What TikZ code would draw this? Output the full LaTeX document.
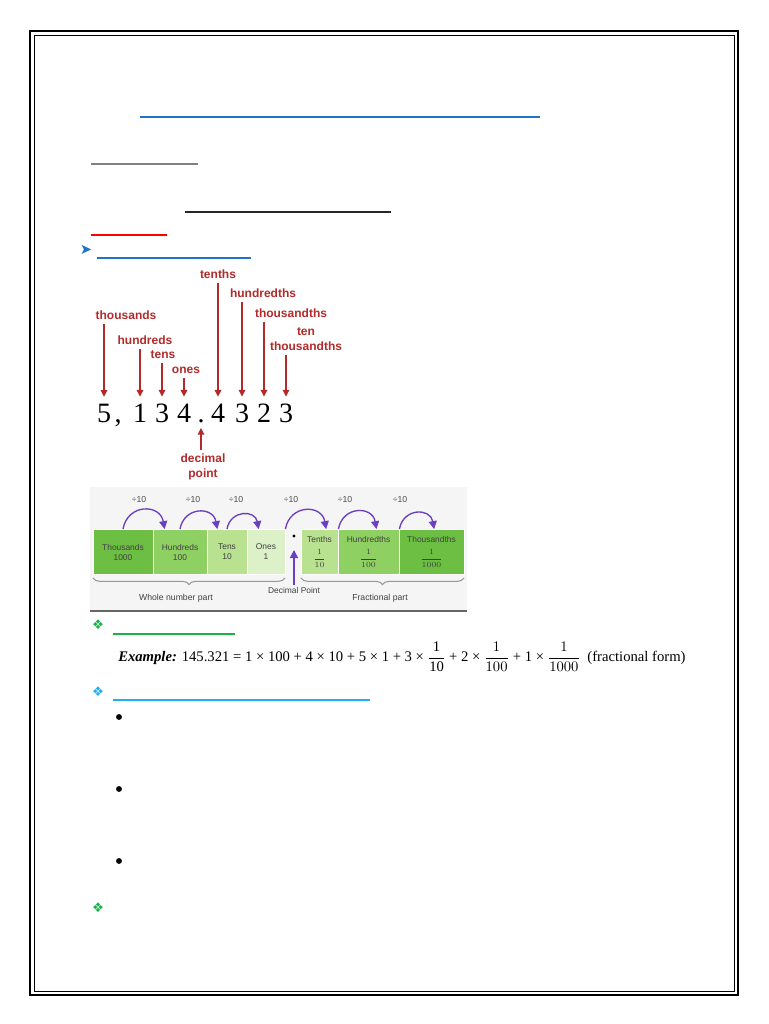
\documentclass[tikz,border=0pt]{standalone}
\usepackage{fontspec}
\usepackage{amsmath}
\setmainfont{Liberation Serif}
\setsansfont{Liberation Sans}
\newfontfamily\symfont{DejaVu Sans}
\usetikzlibrary{arrows.meta,decorations.pathreplacing}
\definecolor{labred}{HTML}{B22A2A}
\definecolor{arrpurple}{HTML}{6A3FC0}
\definecolor{gDark}{HTML}{6CBF43}
\definecolor{gMid}{HTML}{8FD063}
\definecolor{gLight}{HTML}{B8E190}
\definecolor{gPale}{HTML}{DCF1C8}
\definecolor{lineblue}{HTML}{1F74C8}
\definecolor{linecyan}{HTML}{1EB0F0}
\definecolor{linegreen}{HTML}{19B34A}
\tikzset{
  lab/.style={text=labred, font=\sffamily\bfseries\fontsize{9}{11}\selectfont, inner sep=0pt, align=center},
  dig/.style={font=\fontsize{21}{21}\selectfont, inner sep=0pt, anchor=base},
  pointer/.style={draw=labred, line width=0.8pt, -{Triangle[length=5pt,width=5pt]}},
  cell/.style={draw=white, line width=0.6pt, minimum height=33.75pt, inner sep=0pt, align=center, font=\sffamily\fontsize{6.3}{7.5}\selectfont, text=black!75},
  hop/.style={draw=arrpurple, line width=1pt, -{Triangle[length=6pt,width=6pt]}},
  rule/.style={line width=1.6pt},
  dmd/.style={font=\symfont\fontsize{10}{10}\selectfont, inner sep=0pt}
}
\begin{document}
\begin{tikzpicture}[x=0.75pt,y=-0.75pt]
\useasboundingbox (0,0) rectangle (768,1024);
% page frame
\draw[line width=1.8pt] (30,31) rectangle (738,995);
\draw[line width=0.5pt] (34,35) rectangle (734,991);

% heading rules
\draw[rule, lineblue] (140,117) -- (540,117);
\draw[rule, black!50] (91,164) -- (198,164);
\draw[rule, black!85] (185,212) -- (391,212);
\draw[rule, red] (91,235) -- (167,235);
\node[font=\symfont\fontsize{11}{11}\selectfont, text=lineblue, inner sep=0pt] (tip) at (86,250) {➤};
\draw[rule, lineblue] (97,258) -- (251,258);

% the number with its place names
\node[dig] (d1) at (104,422) {5};
\node[dig] (cm) at (118,422) {,};
\node[dig] (d2) at (140,422) {1};
\node[dig] (d3) at (162,422) {3};
\node[dig] (d4) at (184,422) {4};
\node[dig] (dp) at (201,422) {.};
\node[dig] (d5) at (218,422) {4};
\node[dig] (d6) at (242,422) {3};
\node[dig] (d7) at (264,422) {2};
\node[dig] (d8) at (286,422) {3};
\node[lab] (l1) at (126,315) {thousands};
\node[lab] (l2) at (145,340) {hundreds};
\node[lab] (l3) at (163,355) {tens};
\node[lab] (l4) at (186,370) {ones};
\node[lab] (l5) at (218,274) {tenths};
\node[lab] (l6) at (263,293) {hundredths};
\node[lab] (l7) at (291,313) {thousandths};
\node[lab] (l8) at (306,339) {ten\\thousandths};
\node[lab] (l9) at (203,467) {decimal\\point};
\draw[pointer] ([yshift=-3pt]l1.south -| d1) -- ([yshift=5pt]d1.north);
\draw[pointer] ([yshift=-3pt]l2.south -| d2) -- ([yshift=5pt]d2.north);
\draw[pointer] ([yshift=-3pt]l3.south -| d3) -- ([yshift=5pt]d3.north);
\draw[pointer] ([yshift=-3pt]l4.south -| d4) -- ([yshift=5pt]d4.north);
\draw[pointer] ([yshift=-3pt]l5.south -| d5) -- ([yshift=5pt]d5.north);
\draw[pointer] ([yshift=-3pt]l6.south -| d6) -- ([yshift=5pt]d6.north);
\draw[pointer] ([yshift=-3pt]l7.south -| d7) -- ([yshift=5pt]d7.north);
\draw[pointer] ([yshift=-3pt]l8.south -| d8) -- ([yshift=5pt]d8.north);
\draw[pointer] ([yshift=3pt]l9.north -| dp) -- ([yshift=-4pt]dp.south);

% place value chart
\fill[black!4] (90,487) rectangle (467,611);
\draw[black!60, line width=1pt] (90,611) -- (467,611);
\node[cell, fill=gDark, minimum width=45pt] (th) at (123,552) {Thousands\\1000};
\node[cell, fill=gMid, minimum width=40.5pt] (hu) at (180,552) {Hundreds\\100};
\node[cell, fill=gLight, minimum width=30pt] (te) at (227,552) {Tens\\10};
\node[cell, fill=gPale, minimum width=28.5pt] (on) at (266,552) {Ones\\1};
\node[cell, fill=gLight, minimum width=27.75pt] (tt) at (319.5,552) {Tenths\\[4pt]$\dfrac{1}{10}$};
\node[cell, fill=gMid, minimum width=45.75pt] (ht) at (368.5,552) {Hundredths\\[4pt]$\dfrac{1}{100}$};
\node[cell, fill=gDark, minimum width=48.75pt] (tht) at (431.5,552) {Thousandths\\[4pt]$\dfrac{1}{1000}$};
\fill (294,536) circle (1.3pt);
\node[font=\sffamily\fontsize{6.3}{7}\selectfont, text=black!75, inner sep=1pt] (dpl) at (294,590) {Decimal Point};
\draw[hop] (dpl.north) -- (294,550);
\draw[hop] (th.north) to[out=80,in=100,looseness=1.6] ([xshift=9pt]hu.north west);
\draw[hop] (hu.north) to[out=80,in=100,looseness=1.6] ([xshift=8pt]te.north west);
\draw[hop] (te.north) to[out=80,in=100,looseness=1.6] ([xshift=9pt]on.north west);
\draw[hop] (on.north east) to[out=80,in=100,looseness=1.6] ([xshift=5pt]tt.north);
\draw[hop] (tt.north east) to[out=80,in=100,looseness=1.6] ([xshift=6pt]ht.north);
\draw[hop] (ht.north east) to[out=80,in=100,looseness=1.6] ([xshift=2pt]tht.north);
\foreach \x in {139,193,236,291,345,400}
  \node[font=\sffamily\fontsize{6.5}{7}\selectfont, text=black!70] at (\x,500) {÷10};
\draw[decorate, decoration={brace, mirror, amplitude=5pt}, black!40, line width=0.8pt] (93,578) -- (285,578);
\draw[decorate, decoration={brace, mirror, amplitude=5pt}, black!40, line width=0.8pt] (301,578) -- (464,578);
\node[font=\sffamily\fontsize{6.5}{7}\selectfont, text=black!75] (whole) at (176,598) {Whole number part};
\node[font=\sffamily\fontsize{6.5}{7}\selectfont, text=black!75] (frac) at (380,598) {Fractional part};

% example
\node[dmd, text=linegreen] (s1) at (98,625) {❖};
\draw[rule, linegreen] (113,634) -- (235,634);
\node[anchor=west, inner sep=0pt, font=\fontsize{11}{12}\selectfont] (ex) at (118,657)
  {\textbf{\textit{Example:}} 145.321 = 1 × 100 + 4 × 10 + 5 × 1 + 3 × $\dfrac{\mathrm{1}}{\mathrm{10}}$ + 2 × $\dfrac{1}{100}$ + 1 × $\dfrac{1}{1000}$\ \ (fractional form)};
\node[dmd, text=linecyan] (s2) at (98,692) {❖};
\draw[rule, linecyan] (113,700) -- (370,700);
\foreach \y in {717,789,861}
  \fill (119,\y) circle (2.2pt);
\node[dmd, text=linegreen] (s3) at (98,908) {❖};
\end{tikzpicture}
\end{document}
